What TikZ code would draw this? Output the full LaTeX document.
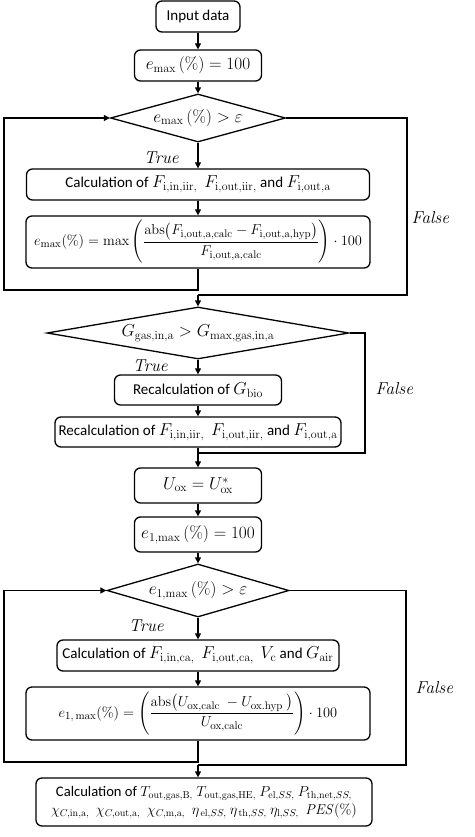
\documentclass[tikz,border=0pt]{standalone}
\usepackage[no-math]{fontspec}
\setmainfont{Carlito}
\usepackage{amsmath}
\DeclareMathSizes{15}{16.2}{11.5}{9}
\usetikzlibrary{shapes.geometric, arrows.meta, positioning}

\begin{document}
\begin{tikzpicture}[x=1pt, y=-1pt, line width=1.3pt,
    every node/.style={font=\fontsize{15}{18}\selectfont},
    box/.style={draw, rounded corners=6pt, inner sep=2pt, align=center},
    cond/.style={draw, diamond, inner sep=0pt},
    lbl/.style={inner sep=0pt},
    arr/.style={-{Triangle[length=6pt,width=6pt]}}]
    \useasboundingbox (0,0) rectangle (474,837);

    % First loop: flow rates
    \node[box, minimum width=84pt, minimum height=31pt] (in) at (198,16.5) {Input data};
    \node[box, minimum width=127pt, minimum height=31pt] (e0) at (198,65.5) {$e_{\mathrm{max}}\,(\%) = 100$};
    \node[cond, aspect=3.6, minimum width=175pt, minimum height=48pt] (d1) at (198,118) {$e_{\mathrm{max}}\,(\%) > \varepsilon$};
    \node[box, minimum width=343pt, minimum height=31pt] (c1) at (198,184.5) {Calculation of $F_{\mathrm{i,in,iir,}}$\ \ $F_{\mathrm{i,out,iir,}}$ and $F_{\mathrm{i,out,a}}$};
    \node[box, minimum width=344pt, minimum height=52pt, font=\fontsize{15.4}{18}\selectfont] (r1) at (198,242) {$e_{\mathrm{max}}(\%) = \max\left(\dfrac{\mathrm{abs}\bigl(F_{\mathrm{i,out,a,calc}} - F_{\mathrm{i,out,a,hyp}}\bigr)}{F_{\mathrm{i,out,a,calc}}}\right)\cdot 100$};

    % Gas check
    \node[cond, aspect=5.8, minimum width=302pt, minimum height=52pt] (d2) at (198,333) {$G_{\mathrm{gas,in,a}} > G_{\mathrm{max,gas,in,a}}$};
    \node[box, minimum width=167pt, minimum height=30pt] (g1) at (198,390) {Recalculation of $G_{\mathrm{bio}}$};
    \node[box, minimum width=286pt, minimum height=30pt] (g2) at (198,432) {Recalculation of $F_{\mathrm{i,in,iir,}}$\ \ $F_{\mathrm{i,out,iir,}}$ and $F_{\mathrm{i,out,a}}$};

    % Second loop: oxygen utilisation
    \node[box, minimum width=127pt, minimum height=35pt] (u0) at (198,485.5) {$U_{\mathrm{ox}} = U_{\mathrm{ox}}^{*}$};
    \node[box, minimum width=127pt, minimum height=35pt] (e1) at (198,534.5) {$e_{1,\mathrm{max}}\,(\%) = 100$};
    \node[cond, aspect=3.4, minimum width=182pt, minimum height=53pt] (d3) at (198,590.5) {$e_{1,\mathrm{max}}\,(\%) > \varepsilon$};
    \node[box, minimum width=282pt, minimum height=31pt] (c2) at (198,655.5) {Calculation of $F_{\mathrm{i,in,ca,}}$\ \ $F_{\mathrm{i,out,ca,}}$\ \ $V_{\mathrm{c}}$ and $G_{\mathrm{air}}$};
    \node[box, minimum width=344pt, minimum height=53pt, font=\fontsize{15.8}{18}\selectfont] (r2) at (198,713.5) {$e_{1,\,\mathrm{max}}(\%) = \left(\dfrac{\mathrm{abs}\bigl(U_{\mathrm{ox,calc}} \ - U_{\mathrm{ox.hyp}}\ \bigr)}{U_{\mathrm{ox,calc}}}\right)\cdot 100$};

    % Results
    \node[box, minimum width=336pt, minimum height=48pt, font=\fontsize{14.6}{18}\selectfont] (out) at (204,802) {Calculation of $T_{\mathrm{out,gas,B,}}$ $T_{\mathrm{out,gas,HE,}}$ $P_{\mathrm{el},SS,}$ $P_{\mathrm{th,net},SS,}$\\ $\chi_{C,\mathrm{in,a,}}$\ \ $\chi_{C,\mathrm{out,a,}}$\ \ $\chi_{C,\mathrm{m,a,}}$\ \ $\eta_{\,\mathrm{el},SS,}$ $\eta_{\,\mathrm{th},SS,}$ $\eta_{\mathrm{l},SS,}$\ \ $\mathit{PES}(\%)$};

    % Branch labels
    \node[lbl] (t1) at (162,158) {$\mathit{True}$};
    \node[lbl] (t2) at (151,366) {$\mathit{True}$};
    \node[lbl] (t3) at (147,626) {$\mathit{True}$};
    \node[lbl] (f1) at (431,217) {$\mathit{False}$};
    \node[lbl] (f2) at (395,388) {$\mathit{False}$};
    \node[lbl] (f3) at (435,687) {$\mathit{False}$};

    % Corner points of the loops
    \coordinate (a1) at (4,290);
    \coordinate (b1) at (407,295);
    \coordinate (j1) at (198,295);
    \coordinate (b2) at (365,453);
    \coordinate (j2) at (198,453);
    \coordinate (a3) at (4,762);
    \coordinate (b3) at (406,765);
    \coordinate (j3) at (198,765);

    % Straight flow
    \draw[arr] (in) -- (e0);
    \draw[arr] (e0) -- (d1);
    \draw[arr] (d1) -- (c1);
    \draw[arr] (c1) -- (r1);
    \draw[arr] (j1) -- (d2);
    \draw[arr] (d2) -- (g1);
    \draw[arr] (g1) -- (g2);
    \draw[arr] (g2) -- (u0);
    \draw[arr] (u0) -- (e1);
    \draw[arr] (e1) -- (d3);
    \draw[arr] (d3) -- (c2);
    \draw[arr] (c2) -- (r2);
    \draw[arr] (j3) -- (out.north -| j3);

    % Loops back and false branches
    \draw[arr] (r1.south) |- (a1) |- (d1.west);
    \draw (d1.east) -| (b1) -- (j1);
    \draw (d2.east) -| (b2) -- (j2);
    \draw[arr] (r2.south) |- (a3) |- (d3.west);
    \draw (d3.east) -| (b3) -- (j3);
\end{tikzpicture}
\end{document}
